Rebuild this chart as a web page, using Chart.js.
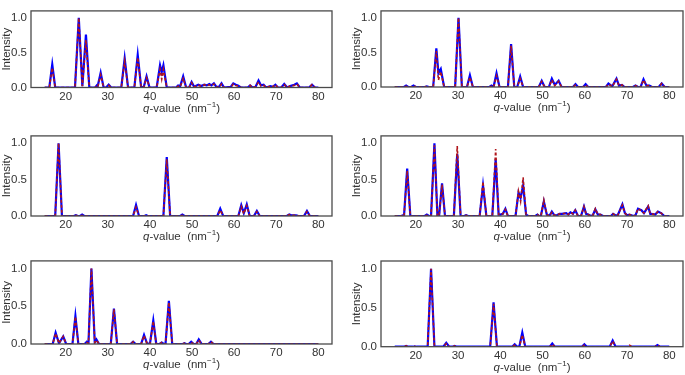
<!DOCTYPE html>
<html>
<head>
<meta charset="utf-8">
<script src="https://cdn.jsdelivr.net/npm/chart.js@4.4.1/dist/chart.umd.min.js"></script>
<style>
  html, body { margin: 0; padding: 0; background: #fff; }
  #wrap { position: relative; width: 685px; height: 375px; overflow: hidden; }
  #wrap canvas { position: absolute; }
</style>
</head>
<body>
<div id="wrap">
  <canvas id="p1" width="340" height="125" style="left:0;top:0"></canvas>
  <canvas id="p2" width="345" height="125" style="left:340px;top:0"></canvas>
  <canvas id="p3" width="340" height="125" style="left:0;top:125px"></canvas>
  <canvas id="p4" width="345" height="125" style="left:340px;top:125px"></canvas>
  <canvas id="p5" width="340" height="125" style="left:0;top:250px"></canvas>
  <canvas id="p6" width="345" height="125" style="left:340px;top:250px"></canvas>
</div>
<script>
// Tick values shared by all six panels
const xTicks = [20, 30, 40, 50, 60, 70, 80];
const yTicks = [0, 0.5, 1.0];

// Panel 1 (top left)
const q1 = [15, 16.1, 16.8, 17.5, 22.2, 23.1, 23.95, 24.8, 25.6, 27.0, 27.4, 27.6, 28.3, 29.0, 29.6, 30.2, 30.8,
  33.2, 34.0, 34.8, 36.3, 37.1, 37.9, 38.5, 39.2, 39.9, 41.6, 42.4, 42.8, 43.2, 44.0, 46.2, 46.7, 47.2, 47.9, 48.6,
  49.3, 49.9, 50.5, 51.5, 52.2, 52.9, 53.5, 54.1, 54.6, 55.2, 55.8, 56.4, 57.0, 57.6, 59.2, 59.8, 60.4, 60.9, 61.6,
  63.2, 63.8, 64.4, 65.1, 65.8, 66.4, 67.0, 67.6, 68.6, 69.2, 69.8, 70.4, 71.2, 71.9, 72.6, 73.3, 74.3, 74.9, 75.6,
  77.8, 78.5, 79.2, 80];
const blue1 = [0, 0, 0.33, 0, 0, 1.0, 0.02, 0.76, 0, 0, 0.03, 0.02, 0.21, 0, 0, 0.04, 0,
  0, 0.42, 0, 0, 0.47, 0.01, 0, 0.16, 0, 0, 0.32, 0.22, 0.32, 0, 0, 0.03, 0.02, 0.16, 0,
  0, 0.08, 0.01, 0.04, 0.02, 0.04, 0.03, 0.05, 0.03, 0.06, 0.01, 0.01, 0.06, 0, 0.01, 0.06, 0.04, 0.03, 0,
  0, 0.03, 0, 0.01, 0.10, 0.03, 0.04, 0, 0.02, 0.01, 0.04, 0, 0, 0.05, 0, 0.02, 0.04, 0.06, 0,
  0, 0.04, 0, 0];
const red1 = [0, 0, 0.28, 0, 0, 1.0, 0.02, 0.68, 0, 0, 0.02, 0.01, 0.18, 0, 0, 0.03, 0,
  0, 0.38, 0, 0, 0.43, 0.01, 0, 0.14, 0, 0, 0.26, 0.12, 0.26, 0, 0, 0.02, 0.01, 0.13, 0,
  0, 0.07, 0.01, 0.03, 0.02, 0.04, 0.03, 0.04, 0.03, 0.05, 0.01, 0, 0.05, 0, 0, 0.05, 0.03, 0.02, 0,
  0, 0.03, 0, 0.01, 0.08, 0.02, 0.03, 0, 0.02, 0.01, 0.04, 0, 0, 0.04, 0, 0.02, 0.03, 0.05, 0,
  0, 0.04, 0, 0];

// Panel 2 (top right)
const q2 = [15, 17.2, 17.7, 18.2, 18.9, 19.45, 20.0, 22.1, 22.6, 23.1, 24.1, 24.85, 25.35, 25.9, 26.7, 29.3, 30.1,
  30.9, 32.1, 32.8, 33.5, 37.4, 37.9, 38.4, 39.1, 39.8, 41.8, 42.55, 43.3, 44.0, 44.7, 45.4, 49.1, 49.8, 50.5,
  51.5, 52.2, 52.9, 53.8, 54.5, 57.2, 57.8, 58.4, 59.6, 60.2, 60.8, 65.0, 65.6, 66.5, 67.5, 68.1, 68.8, 69.4,
  71.4, 72.0, 72.6, 73.2, 73.9, 74.6, 75.3, 75.9, 77.5, 78.2, 78.9, 80];
const blue2 = [0, 0, 0.02, 0, 0, 0.02, 0, 0, 0.01, 0, 0, 0.56, 0.20, 0.26, 0, 0, 1.0,
  0, 0, 0.17, 0, 0, 0.02, 0, 0.20, 0, 0, 0.62, 0, 0, 0.15, 0, 0, 0.09, 0,
  0, 0.12, 0.03, 0.09, 0, 0, 0.04, 0, 0, 0.04, 0, 0, 0.05, 0.01, 0.12, 0.02, 0.03, 0,
  0, 0.02, 0, 0, 0.11, 0.02, 0.02, 0, 0, 0.05, 0, 0];
const red2 = [0, 0, 0.01, 0, 0, 0.02, 0, 0, 0.01, 0, 0, 0.52, 0.10, 0.22, 0, 0, 1.0,
  0, 0, 0.14, 0, 0, 0.01, 0, 0.16, 0, 0, 0.60, 0, 0, 0.12, 0, 0, 0.08, 0,
  0, 0.10, 0.02, 0.08, 0, 0, 0.03, 0, 0, 0.03, 0, 0, 0.04, 0.01, 0.11, 0.02, 0.03, 0,
  0, 0.02, 0, 0, 0.10, 0.02, 0.02, 0, 0, 0.05, 0, 0];

// Panel 3 (middle left)
const q3 = [15, 17.5, 18.3, 19.1, 21.9, 22.4, 22.9, 23.4, 23.9, 24.4, 36.0, 36.7, 37.4, 38.7, 39.1, 39.5, 43.2,
  44.0, 44.8, 47.2, 47.7, 48.2, 56.0, 56.7, 57.4, 61.0, 61.7, 62.3, 63.0, 63.7, 64.7, 65.4, 66.1, 72.5, 73.1,
  73.6, 74.7, 75.3, 76.6, 77.3, 78.0, 80];
const blue3 = [0, 0, 1.0, 0, 0, 0.01, 0, 0, 0.02, 0, 0, 0.15, 0, 0, 0.01, 0, 0,
  0.81, 0, 0, 0.02, 0, 0, 0.10, 0, 0, 0.15, 0.04, 0.16, 0, 0, 0.07, 0, 0, 0.02,
  0.01, 0.01, 0, 0, 0.07, 0, 0];
const red3 = [0, 0, 1.0, 0, 0, 0.01, 0, 0, 0.01, 0, 0, 0.12, 0, 0, 0.01, 0, 0,
  0.78, 0, 0, 0.01, 0, 0, 0.08, 0, 0, 0.13, 0.03, 0.14, 0, 0, 0.06, 0, 0, 0.02,
  0.01, 0.01, 0, 0, 0.06, 0, 0];

// Panel 4 (middle right)
const q4 = [15, 16.5, 17.0, 17.2, 17.95, 18.7, 22.1, 22.6, 23.1, 23.6, 24.4, 25.1, 25.5, 26.2, 26.9, 29.0, 29.8,
  30.6, 31.4, 31.9, 32.4, 35.1, 35.9, 36.7, 38.1, 38.9, 39.6, 40.0, 40.6, 41.2, 41.8, 43.6, 44.3, 44.8, 45.4,
  46.1, 46.6, 48.3, 48.8, 49.2, 49.6, 50.3, 51.0, 51.6, 52.2, 52.8, 53.4, 54.0, 54.6, 55.6, 56.1, 56.6, 57.2,
  57.75, 58.4, 59.1, 59.8, 60.3, 60.8, 61.4, 61.9, 62.5, 63.1, 63.7, 64.3, 66.2, 66.7, 67.2, 67.8, 68.9, 69.5,
  70.0, 70.6, 71.5, 72.0, 72.6, 73.4, 74.0, 75.0, 75.5, 75.8, 76.7, 77.3, 78.1, 78.8, 80];
const blue4 = [0, 0, 0.01, 0, 0.65, 0, 0, 0.02, 0, 0, 1.0, 0.01, 0, 0.45, 0, 0, 0.85,
  0, 0, 0.01, 0, 0, 0.42, 0, 0, 0.78, 0.02, 0.02, 0.03, 0.10, 0, 0, 0.32, 0.25, 0.42,
  0.02, 0, 0, 0.02, 0, 0, 0.20, 0.02, 0, 0.06, 0.01, 0.01, 0.03, 0.03, 0.04, 0.02, 0.05, 0.03,
  0.08, 0, 0, 0.13, 0.03, 0.02, 0, 0.01, 0.09, 0.02, 0.02, 0, 0, 0.03, 0.01, 0.01, 0.16, 0.04,
  0.01, 0.02, 0, 0.01, 0.10, 0.08, 0.04, 0.13, 0.03, 0.03, 0.02, 0.06, 0.04, 0, 0];
const red4 = [0, 0, 0.01, 0, 0.62, 0, 0, 0.01, 0, 0, 0.97, 0.01, 0, 0.43, 0, 0, 0.96,
  0, 0, 0.01, 0, 0, 0.47, 0, 0, 0.92, 0.02, 0.02, 0.03, 0.09, 0, 0, 0.34, 0.20, 0.53,
  0.02, 0, 0, 0.02, 0, 0, 0.22, 0.02, 0, 0.05, 0.01, 0.01, 0.03, 0.03, 0.04, 0.02, 0.05, 0.03,
  0.08, 0, 0, 0.13, 0.03, 0.02, 0, 0.01, 0.10, 0.02, 0.02, 0, 0, 0.03, 0.01, 0.01, 0.15, 0.04,
  0.01, 0.02, 0, 0.01, 0.10, 0.07, 0.04, 0.14, 0.03, 0.03, 0.02, 0.06, 0.04, 0, 0];

// Panel 5 (bottom left)
const q5 = [15, 16.9, 17.6, 18.4, 19.4, 20.1, 21.6, 22.3, 23.0, 24.5, 25.0, 25.4, 26.1, 26.9, 27.3, 27.9, 30.7,
  31.45, 32.2, 35.4, 36.0, 36.6, 37.9, 38.6, 39.3, 40.0, 40.8, 41.5, 42.3, 42.8, 43.3, 43.7, 44.5, 45.3, 47.8,
  48.2, 48.6, 49.2, 49.8, 50.4, 51.0, 51.6, 52.3, 53.9, 54.5, 55.1, 80];
const blue5 = [0, 0, 0.15, 0.01, 0.10, 0, 0, 0.37, 0, 0, 0.03, 0.01, 1.0, 0.02, 0.06, 0, 0,
  0.47, 0, 0, 0.03, 0, 0, 0.12, 0.01, 0, 0.31, 0, 0, 0.02, 0, 0, 0.57, 0, 0,
  0.01, 0, 0, 0.03, 0, 0, 0.06, 0, 0, 0.03, 0, 0];
const red5 = [0, 0, 0.14, 0.01, 0.10, 0, 0, 0.36, 0, 0, 0.02, 0.01, 1.0, 0.02, 0.05, 0, 0,
  0.46, 0, 0, 0.03, 0, 0, 0.11, 0.01, 0, 0.30, 0, 0, 0.02, 0, 0, 0.55, 0, 0,
  0.01, 0, 0, 0.02, 0, 0, 0.05, 0, 0, 0.03, 0, 0];

// Panel 6 (bottom right)
const q6 = [15, 17.2, 17.7, 18.2, 19.3, 19.7, 20.1, 22.8, 23.6, 24.4, 26.5, 27.2, 27.9, 28.7, 29.2, 29.7, 37.6,
  38.4, 39.2, 42.8, 43.4, 44.0, 44.5, 45.2, 45.9, 51.7, 52.3, 52.9, 59.3, 59.9, 60.5, 65.9, 66.6, 67.3, 70.1,
  70.6, 71.1, 76.6, 77.2, 77.8, 80];
const blue6 = [0, 0, 0.01, 0, 0, 0.005, 0, 0, 1.0, 0, 0, 0.05, 0, 0, 0.01, 0, 0,
  0.57, 0, 0, 0.03, 0, 0, 0.18, 0, 0, 0.04, 0, 0, 0.03, 0, 0, 0.08, 0, 0,
  0, 0, 0, 0.02, 0, 0];
const red6 = [0, 0, 0.01, 0, 0, 0.005, 0, 0, 1.0, 0, 0, 0.04, 0, 0, 0.01, 0, 0,
  0.55, 0, 0, 0.02, 0, 0, 0.15, 0, 0, 0.03, 0, 0, 0.02, 0, 0, 0.07, 0, 0,
  0.02, 0, 0, 0.02, 0, 0];

(function () {
  'use strict';

  const BLUE = '#0000ff';
  const RED = '#b0161b';
  const TEXT = '#333333';
  const FRAME = '#4a4a4a';
  const FONT = "'Liberation Sans', Arial, sans-serif";
  const FSIZE = 11.5;

  function toPoints(q, v) {
    return q.map(function (x, i) {
      return { x: x, y: v[i] };
    });
  }

  // Box frame round the plot area plus the mixed-style x axis title
  const framePlugin = {
    id: 'frame',
    afterDraw: function (chart) {
      const a = chart.chartArea;
      const c = chart.ctx;
      c.save();
      c.strokeStyle = FRAME;
      c.lineWidth = 1.3;
      c.strokeRect(a.left, a.top, a.right - a.left, a.bottom - a.top);

      // "q-value  (nm^-1)"
      const y = a.bottom + 21;
      const parts = [
        { t: 'q', f: 'italic ' + FSIZE + 'px ' + FONT, dy: 0 },
        { t: '-value  (nm', f: FSIZE + 'px ' + FONT, dy: 0 },
        { t: '\u22121', f: (FSIZE * 0.7) + 'px ' + FONT, dy: -4 },
        { t: ')', f: FSIZE + 'px ' + FONT, dy: 0 },
      ];
      let total = 0;
      parts.forEach(function (p) {
        c.font = p.f;
        p.w = c.measureText(p.t).width;
        total += p.w;
      });
      let x = (a.left + a.right) / 2 - total / 2;
      c.fillStyle = TEXT;
      c.textBaseline = 'middle';
      c.textAlign = 'left';
      parts.forEach(function (p) {
        c.font = p.f;
        c.fillText(p.t, x, y + p.dy);
        x += p.w;
      });
      c.restore();
    },
  };

  /**
   * One subplot: blue solid curve under a red dashed curve.
   */
  function makePanel(id, q, blue, red, box) {
    const ctx = document.getElementById(id);
    return new Chart(ctx, {
      type: 'line',
      data: {
        datasets: [
          {
            label: 'red',
            data: toPoints(q, red),
            borderColor: RED,
            borderWidth: 1.6,
            borderDash: [3, 2],
            pointRadius: 0,
            tension: 0,
            order: 0,
          },
          {
            label: 'blue',
            data: toPoints(q, blue),
            borderColor: BLUE,
            borderWidth: 2.2,
            pointRadius: 0,
            tension: 0,
            order: 1,
          },
        ],
      },
      options: {
        responsive: false,
        animation: false,
        events: [],
        layout: { padding: { left: box.padLeft, top: box.padTop, right: box.padRight, bottom: 0 } },
        plugins: {
          legend: { display: false },
          tooltip: { enabled: false },
        },
        scales: {
          x: {
            type: 'linear',
            min: 11.75,
            max: 83.25,
            grid: { display: false, drawTicks: false },
            border: { display: false },
            afterBuildTicks: function (s) {
              s.ticks = xTicks.map(function (v) { return { value: v }; });
            },
            afterFit: function (s) {
              s.height = box.xH;
            },
            ticks: {
              padding: 2,
              color: TEXT,
              font: { family: FONT, size: FSIZE },
              maxRotation: 0,
              callback: function (v) { return String(v); },
            },
          },
          y: {
            type: 'linear',
            min: 0,
            max: 1.1,
            grid: { display: false, drawTicks: false },
            border: { display: false },
            afterBuildTicks: function (s) {
              s.ticks = yTicks.map(function (v) { return { value: v }; });
            },
            afterFit: function (s) {
              s.width = 31;
            },
            ticks: {
              padding: 4,
              color: TEXT,
              font: { family: FONT, size: FSIZE },
              callback: function (v) { return Number(v).toFixed(1); },
            },
            title: {
              display: true,
              text: 'Intensity',
              color: TEXT,
              padding: 0,
              font: { family: FONT, size: FSIZE },
            },
          },
        },
      },
      plugins: [framePlugin],
    });
  }

  makePanel('p1', q1, blue1, red1, { padLeft: 0, padTop: 2, padRight: 8, xH: 37.5 });
  makePanel('p2', q2, blue2, red2, { padLeft: 10, padTop: 2, padRight: 2, xH: 38 });
  makePanel('p3', q3, blue3, red3, { padLeft: 0, padTop: 4.5, padRight: 8, xH: 34 });
  makePanel('p4', q4, blue4, red4, { padLeft: 10, padTop: 5.5, padRight: 2, xH: 34 });
  makePanel('p5', q5, blue5, red5, { padLeft: 0, padTop: 8.5, padRight: 8, xH: 31 });
  makePanel('p6', q6, blue6, red6, { padLeft: 10, padTop: 11, padRight: 2, xH: 28.3 });
})();
</script>
</body>
</html>
